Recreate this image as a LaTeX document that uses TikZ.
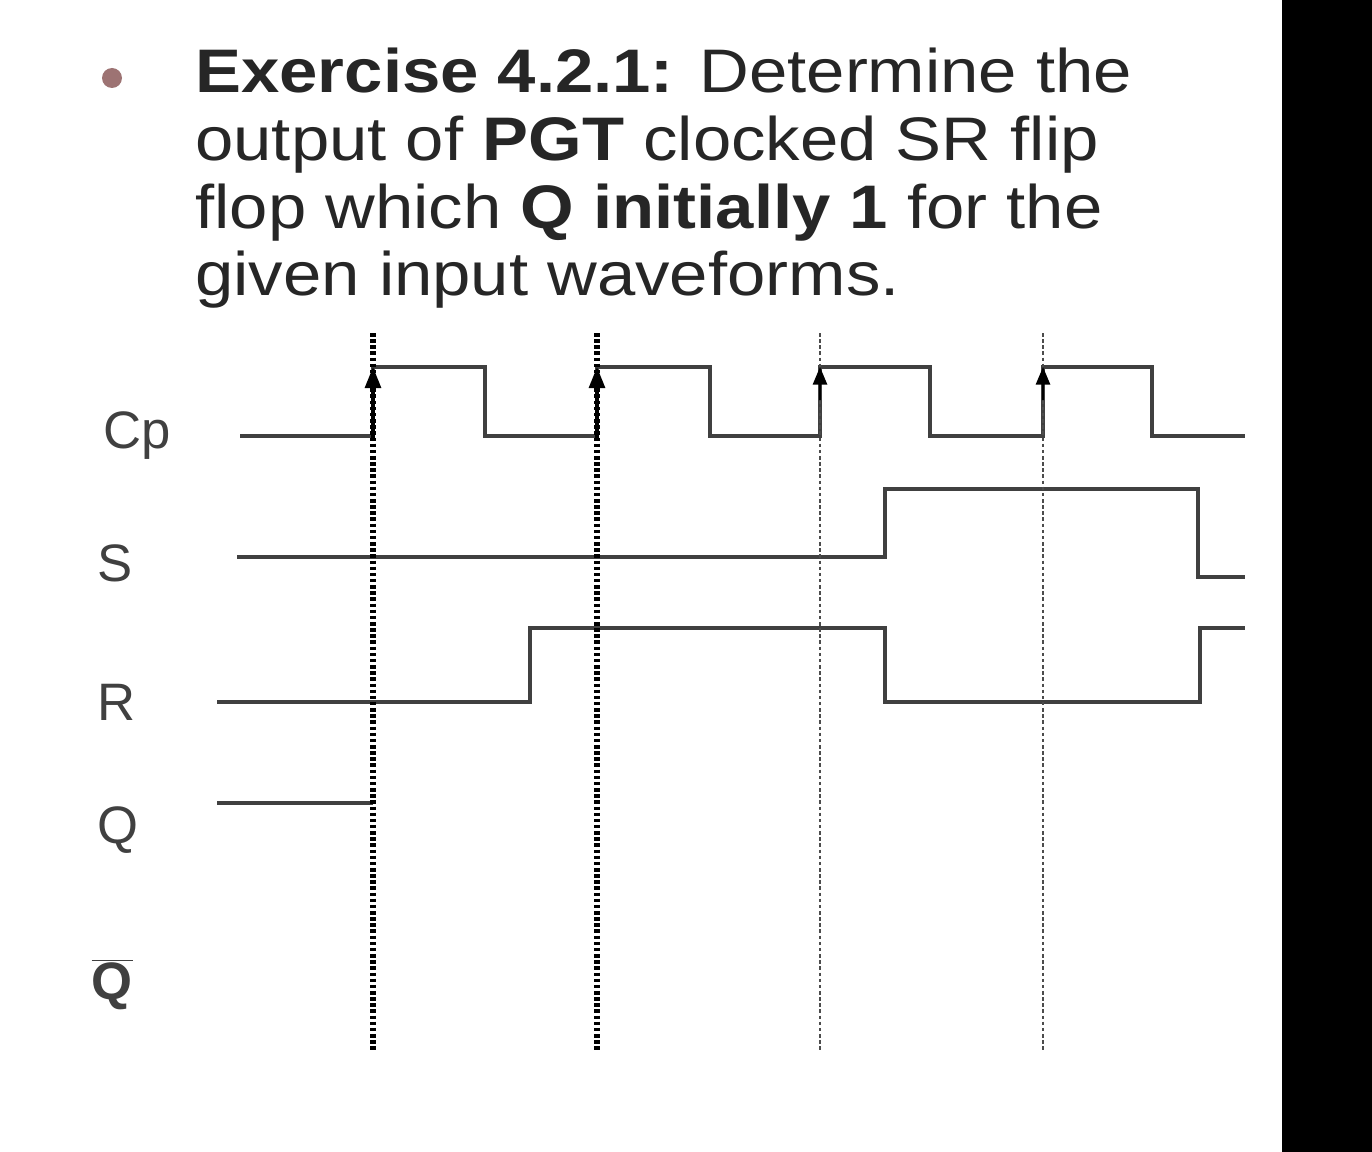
\documentclass[tikz,border=0pt]{standalone}
\usepackage{fontspec}
\setmainfont{Liberation Sans}
\usetikzlibrary{arrows.meta}
\begin{document}
\begin{tikzpicture}[x=0.02cm,y=-0.02cm,
 wave/.style={line width=2.2pt,black!75},
 lbl/.style={font=\fontsize{30}{36}\selectfont,text=black!75},
 edgeA/.style={line width=3pt,dash pattern=on 2pt off 1.5pt},
 edgeB/.style={line width=1.4pt,dash pattern=on 2pt off 1.5pt,black!70}]
\useasboundingbox (0,0) rectangle (1372,1152);
\fill[black] (1282,0) rectangle (1372,1152);
\fill[red!30!black!55] (112,78) circle (10);
\node[anchor=north west,align=left,font=\fontsize{35}{38.5}\selectfont,text=black!85,inner sep=0,xscale=1.12] (title) at (195,48)
 {\textbf{Exercise 4.2.1:} Determine the\\ output of \textbf{PGT} clocked SR flip\\ flop which \textbf{Q initially 1} for the\\ given input waveforms.};
\node[lbl] (cp) at (137,436) {Cp};
\node[lbl] (s) at (115,563) {S};
\node[lbl] (r) at (117,702) {R};
\node[lbl] (q) at (118,830) {Q};
\node[lbl,font=\fontsize{30}{36}\selectfont\bfseries] (qb) at (112,985) {$\overline{\mbox{Q}}$};
\draw[wave] (240,436) -- (373,436) -- (373,367) -- (485,367) -- (485,436) -- (597,436) -- (597,367) -- (710,367) -- (710,436) -- (820,436) -- (820,367) -- (930,367) -- (930,436) -- (1043,436) -- (1043,367) -- (1152,367) -- (1152,436) -- (1245,436);
\draw[wave] (237,557) -- (885,557) -- (885,489) -- (1198,489) -- (1198,577) -- (1245,577);
\draw[wave] (217,702) -- (530,702) -- (530,628) -- (885,628) -- (885,702) -- (1200,702) -- (1200,628) -- (1245,628);
\draw[wave] (217,803) -- (373,803);
\foreach \x in {373,597}{
 \draw[edgeA] (\x,333) -- (\x,1050);
 \draw[line width=2pt,-{Triangle[length=12pt,width=9pt]}] (\x,440) -- (\x,367);}
\foreach \x in {820,1043}{
 \draw[edgeB] (\x,333) -- (\x,1050);
 \draw[line width=1.4pt,-{Triangle[length=10pt,width=8pt]}] (\x,400) -- (\x,367);}
\end{tikzpicture}
\end{document}
